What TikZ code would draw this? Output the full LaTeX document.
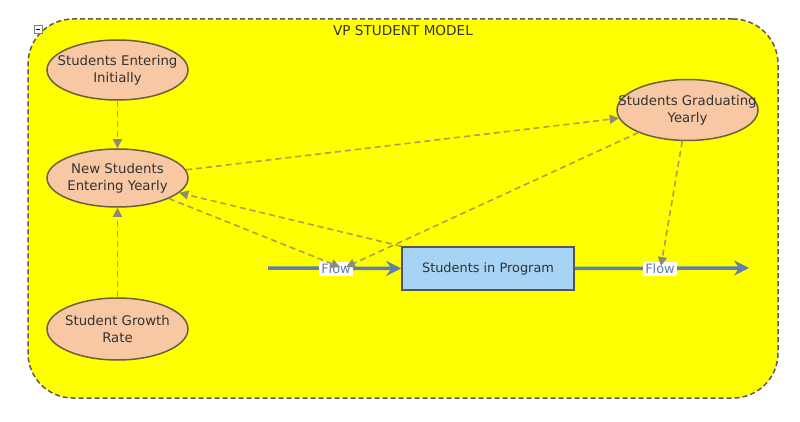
\documentclass[tikz,border=0pt]{standalone}
\usepackage{fontspec}
\setmainfont{DejaVu Sans}
\usetikzlibrary{shapes.geometric,arrows.meta}
\definecolor{modelyellow}{HTML}{FFFF00}
\definecolor{peach}{HTML}{F8C8A4}
\definecolor{ellborder}{HTML}{6E5E40}
\definecolor{stockfill}{HTML}{A7D3F5}
\definecolor{stockborder}{HTML}{555555}
\definecolor{flowblue}{HTML}{5F7FB0}
\definecolor{linkline}{HTML}{ABA050}
\definecolor{linktip}{HTML}{8E8C70}
\definecolor{txt}{HTML}{333333}
\definecolor{frameline}{HTML}{5A5A5A}
\begin{document}
\begin{tikzpicture}[x=1pt,y=-1pt,
  var/.style={ellipse, draw=ellborder, line width=1.5pt, fill=peach,
    minimum width=141pt, minimum height=60pt, inner xsep=-20pt, inner ysep=0pt, align=center,
    font=\fontsize{13.3}{17}\selectfont, text=txt},
  stockbox/.style={rectangle, draw=stockborder, line width=1.5pt, fill=stockfill,
    minimum width=172pt, minimum height=43pt, inner sep=0pt,
    font=\fontsize{12.9}{15}\selectfont, text=txt},
  modelframe/.style={rectangle, rounded corners=45pt, draw=frameline, line width=1.5pt,
    dash pattern=on 5pt off 3pt, fill=modelyellow, minimum width=750pt, minimum height=379pt, inner sep=0pt},
  flowlabel/.style={rectangle, fill=white, inner xsep=2pt, inner ysep=2.5pt, text=flowblue,
    font=\fontsize{12.9}{15}\selectfont},
  flowpipe/.style={draw=flowblue, line width=3.5pt,
    -{Stealth[length=15pt,width=15pt,inset=5pt]}},
  link/.style={draw=linkline, line width=1.6pt, dash pattern=on 6pt off 4pt,
    -{Triangle[length=9pt,width=9pt,fill=linktip,color=linktip]}},
  titletext/.style={font=\fontsize{13.6}{15}\selectfont, text=txt}
]
\useasboundingbox (0,0) rectangle (800,422);
\fill[white] (0,0) rectangle (800,422);
\node[modelframe] (model) at (403,208.5) {};
\node[titletext] (title) at (403,31) {VP STUDENT MODEL};
\node[draw=gray, line width=0.7pt, fill=white, minimum width=8pt, minimum height=8pt, inner sep=0pt] (collapse) at (38,29) {};
\draw[black, line width=0.8pt] ([xshift=-2.3pt]collapse.center) -- ([xshift=2.3pt]collapse.center);

\node[var] (sei) at (117.5,70) {Students Entering\\Initially};
\node[var, minimum height=58pt] (nsey) at (117.5,178) {New Students\\Entering Yearly};
\node[var, minimum height=62pt] (sgr) at (117.5,329) {Student Growth\\Rate};
\node[var, minimum height=61pt] (sgy) at (687.5,110) {Students Graduating\\Yearly};
\node[stockbox] (stock) at (488,268.5) {Students in Program};

\coordinate (src) at (268,268);
\coordinate (sink) at (749,268);
\draw[flowpipe] (src) -- (stock.west);
\draw[flowpipe] (stock.east) -- (sink);
\node[flowlabel] (f1) at (336,269) {Flow};
\node[flowlabel] (f2) at (660,269) {Flow};

\draw[link] (sei) -- (nsey);
\draw[link] (sgr) -- (nsey);
\draw[link] (nsey) -- (sgy);
\draw[link] (nsey) -- ([xshift=4pt,yshift=2pt]f1.center);
\draw[link] (stock.north west) -- (nsey);
\draw[link] (sgy) -- ([xshift=10pt,yshift=2pt]f1.center);
\draw[link] (sgy) -- ([xshift=1pt,yshift=3pt]f2.center);
\end{tikzpicture}
\end{document}
